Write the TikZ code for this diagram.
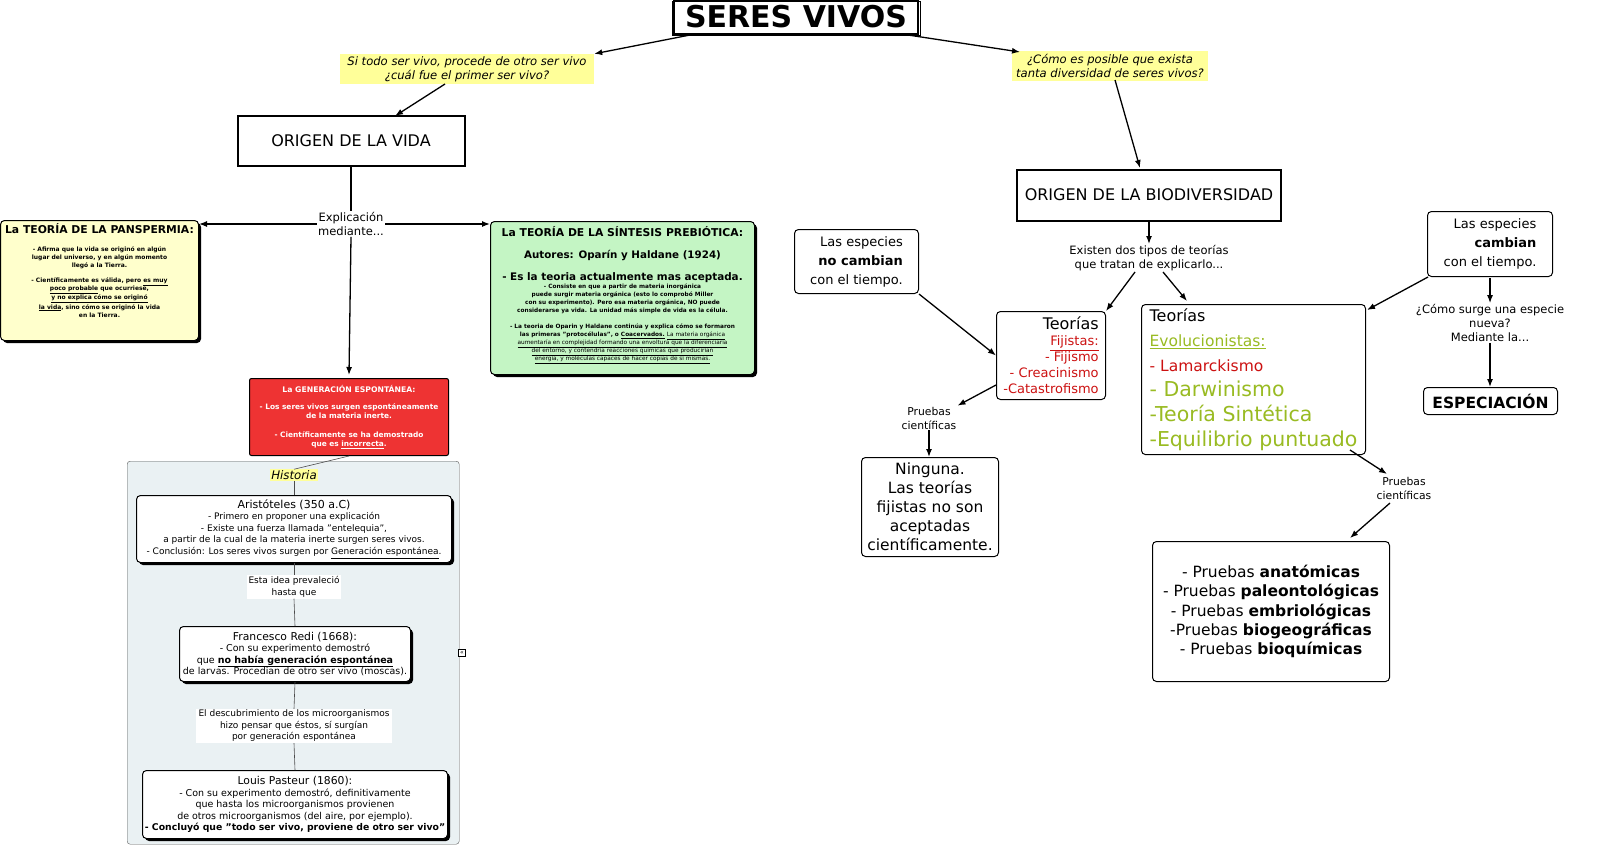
\documentclass[tikz,border=0pt]{standalone}
\usepackage{fontspec}
\setmainfont{DejaVu Sans}
\usetikzlibrary{shadows,arrows.meta}
\definecolor{qy}{HTML}{FFFF99}
\definecolor{pany}{HTML}{FFFFCC}
\definecolor{sing}{HTML}{C4F5C4}
\definecolor{genr}{HTML}{EE3333}
\definecolor{hist}{HTML}{EAF1F3}
\definecolor{fred}{HTML}{CC1111}
\definecolor{egreen}{HTML}{99BB22}
\newcommand{\fs}[2]{\fontsize{#1}{#2}\selectfont}
\tikzset{
 box/.style={draw=black,line width=1pt,rounded corners=4pt,fill=white,align=center,inner sep=2pt},
 sbox/.style={box,drop shadow={shadow xshift=2.5pt,shadow yshift=-2.5pt,fill=black,opacity=1}},
 sq/.style={draw=black,line width=2pt,fill=white,align=center},
 lbl/.style={align=center,inner sep=1pt},
 arr/.style={-{Latex[length=8pt,width=6pt]},line width=1.3pt},
 ln/.style={line width=0.6pt,draw=gray!60!black},
}
\begin{document}
\begin{tikzpicture}[x=1pt,y=-1pt]
\path[use as bounding box,fill=white] (0,0) rectangle (1600,863);
\begin{scope}[overlay]
% title
\node[sq,minimum width=244,minimum height=33,inner sep=0,font=\fs{30}{32}\bfseries] (title) at (796,17) {SERES VIVOS};
\draw[line width=0.8pt] (672,1) rectangle (920,35);
\node[fill=qy,lbl,minimum width=254,minimum height=30,font=\fs{11.6}{14}\itshape] (q1) at (467,69) {Si todo ser vivo, procede de otro ser vivo\\¿cuál fue el primer ser vivo?};
\node[fill=qy,lbl,minimum width=196,minimum height=30,font=\fs{11.6}{14}\itshape] (q2) at (1110,66) {¿Cómo es posible que exista\\tanta diversidad de seres vivos?};
\node[sq,minimum width=227,minimum height=50,font=\fs{16}{18}] (ov) at (351,141) {ORIGEN DE LA VIDA};
\node[sq,minimum width=264,minimum height=51,font=\fs{16}{18}] (ob) at (1149,195) {ORIGEN DE LA BIODIVERSIDAD};
\draw[arr] (690,35) -- (q1.north east);
\draw[arr] (908,35) -- (1020,52);
\draw[arr] (445,84) -- (395,116);
\draw[arr] (1115,80) -- (1140,168);
% left
\node[lbl,fill=white,font=\fs{11.5}{14}] (exp) at (351,224) {Explicación\\mediante...};
\draw[line width=1.3pt] (ov.south) -- (exp.north);
\node[sbox,fill=pany,minimum width=198,minimum height=120,anchor=north west,font=\fs{6}{8}\bfseries] (pan) at (0,220) {\fs{10.8}{13}La TEORÍA DE LA PANSPERMIA:\\[10pt]- Afirma que la vida se originó en algún\\lugar del universo, y en algún momento\\llegó a la Tierra.\\[7pt]- Científicamente es válida, pero \underline{es muy}\\\underline{poco probable} que ocurriese,\\\underline{y no explica cómo se originó}\\\underline{la vida}, sino cómo se originó la vida\\en la Tierra.\\[12pt]};
\node[sbox,fill=sing,minimum width=264,minimum height=153,anchor=north west,font=\fs{5.8}{8}\bfseries] (sin) at (490,221) {\fs{10.8}{13}La TEORÍA DE LA SÍNTESIS PREBIÓTICA:\\[12pt]\fs{10.3}{13}Autores: Oparín y Haldane (1924)\\[11pt]\fs{10.4}{12}- Es la teoria actualmente mas aceptada.\\- Consiste en que a partir de materia inorgánica\\puede surgir materia orgánica (esto lo comprobó Miller\\con su experimento). Pero esa materia orgánica, NO puede\\considerarse ya vida. La unidad más simple de vida es la célula.\\[8pt]- La teoria de Oparin y Haldane continúa y explica cómo se formaron\\las primeras "protocélulas", o \underline{Coacervados.} \mdseries\underline{La materia orgánica}\\\mdseries\underline{aumentaría en complejidad formando una envoltura que la diferenciaria}\\\mdseries\underline{del entorno, y contendría reacciones químicas que producirían}\\\mdseries\underline{energía, y moléculas capaces de hacer copias de sí mismas.}\\[1pt]};
\draw[arr] (exp.west) -- (pan.north east |- exp.west);
\draw[arr] (exp.east) -- (sin.north west |- exp.east);
\node[box,fill=genr,text=white,minimum width=199,minimum height=77,anchor=north west,rounded corners=2pt,font=\fs{7.4}{9}\bfseries] (gen) at (249,378) {\fs{7.7}{9.5}La GENERACIÓN ESPONTÁNEA:\\[8pt]- Los seres vivos surgen espontáneamente\\de la materia inerte.\\[10pt]- Científicamente se ha demostrado\\que es \underline{incorrecta}.};
\draw[arr] (exp.south) -- (349,375);
% history panel
\node[draw=gray!70!black,fill=hist,rounded corners=3pt,minimum width=332,minimum height=383,anchor=north west,inner sep=0] (panel) at (127,461) {};
\node[lbl,fill=qy,font=\fs{11.8}{13}\itshape] (hl) at (294,475) {Historia};
\node[sbox,minimum width=315,minimum height=67,anchor=north west,font=\fs{9}{11.5}] (ari) at (136,495) {\fs{11}{12}Aristóteles (350 a.C)\\- Primero en proponer una explicación\\- Existe una fuerza llamada "entelequia",\\a partir de la cual de la materia inerte surgen seres vivos.\\- Conclusión: Los seres vivos surgen por \underline{Generación espontánea}.};
\node[lbl,fill=white,minimum width=94,font=\fs{9}{12}] (idea) at (294,587) {Esta idea prevaleció\\hasta que};
\node[sbox,minimum width=231,minimum height=55,anchor=north west,font=\fs{9.5}{11.5}] (redi) at (179,626) {\fs{10.8}{12}Francesco Redi (1668):\\- Con su experimento demostró\\que \textbf{\underline{no había generación espontánea}}\\de larvas. Procedian de otro ser vivo (moscas).};
\node[lbl,fill=white,minimum width=196,font=\fs{9}{11.5}] (micro) at (294,726) {El descubrimiento de los microorganismos\\hizo pensar que éstos, sí surgían\\por generación espontánea};
\node[sbox,minimum width=305,minimum height=68,anchor=north west,font=\fs{9.5}{11.5}] (pas) at (142,770) {\fs{10.8}{12}Louis Pasteur (1860):\\- Con su experimento demostró, definitivamente\\que hasta los microorganismos provienen\\de otros microorganismos (del aire, por ejemplo).\\\fs{9.3}{11.5}\bfseries - Concluyó que "todo ser vivo, proviene de otro ser vivo"};
\draw[ln] (gen.south) -- (hl.north);
\draw[ln] (hl.south) -- (ari.north);
\draw[ln] (ari.south) -- (idea.north);
\draw[ln] (idea.south) -- (redi.north);
\draw[ln] (redi.south) -- (micro.north);
\draw[ln] (micro.south) -- (pas.north);
\node[draw,inner sep=0.5pt,minimum size=7pt,fill=white,font=\fs{6}{6}] (col) at (462,653) {«};
% right
\node[box,minimum width=124,minimum height=64,anchor=north west,align=right,font=\fs{13}{19}] (noc) at (794,229) {Las especies\\\textbf{no cambian}\\con el tiempo.};
\node[lbl,fill=white,font=\fs{11.5}{14}] (ex) at (1149,258) {Existen dos tipos de teorías\\que tratan de explicarlo...};
\draw[arr] (ob.south) -- (ex.north);
\node[box,minimum width=109,minimum height=88,anchor=north west,align=right,inner sep=3pt,font=\fs{13}{16},text=fred] (fij) at (996,311) {\fs{16}{17}\color{black}Teorías\\\underline{Fijistas:}\\- Fijismo\\- Creacinismo\\-Catastrofismo};
\node[box,minimum width=224,minimum height=142,anchor=north west,align=left,inner sep=4pt,font=\fs{20.5}{25},text=egreen] (evo) at (1141,304) {\fs{16}{19}\color{black}Teorías\\\fs{15.5}{19}\underline{Evolucionistas:}\\\fs{15.5}{19}\color{fred}- Lamarckismo\\- Darwinismo\\-Teoría Sintética\\-Equilibrio puntuado};
\draw[arr] (1135,272) -- (fij.north east);
\draw[arr] (1163,272) -- (1187,301);
\draw[arr] (noc.south east) -- (fij.west);
\node[lbl,font=\fs{10.8}{14}] (pf) at (929,418) {Pruebas\\científicas};
\draw[arr] (996,385) -- (pf.north east);
\node[box,minimum width=137,minimum height=99,anchor=north west,font=\fs{15.5}{19}] (nin) at (861,457) {Ninguna.\\Las teorías\\fijistas no son\\aceptadas\\científicamente.};
\draw[arr] (pf.south) -- (nin.north -| pf.south);
\node[lbl,font=\fs{10.8}{14}] (pe) at (1404,488) {Pruebas\\científicas};
\draw[arr] (1350,450) -- (1387,474);
\node[box,minimum width=237,minimum height=140,anchor=north west,font=\fs{15.5}{19.3}] (pru) at (1152,541) {- Pruebas \textbf{anatómicas}\\- Pruebas \textbf{paleontológicas}\\- Pruebas \textbf{embriológicas}\\-Pruebas \textbf{biogeográficas}\\- Pruebas \textbf{bioquímicas}};
\draw[arr] (1390,503) -- (1350,538);
\node[box,minimum width=125,minimum height=65,anchor=north west,align=right,font=\fs{13}{19}] (cam) at (1427,211) {Las especies\\\textbf{cambian}\\con el tiempo.};
\draw[arr] (1428,277) -- (1367,310);
\node[lbl,font=\fs{11.5}{14}] (como) at (1490,323) {¿Cómo surge una especie\\nueva?\\Mediante la...};
\draw[arr] (1490,278) -- (como.north);
\node[box,minimum width=134,minimum height=27,anchor=north west,font=\fs{15.5}{17}\bfseries] (esp) at (1423,387) {ESPECIACIÓN};
\draw[arr] (como.south) -- (esp.north -| como.south);
\end{scope}
\end{tikzpicture}
\end{document}
